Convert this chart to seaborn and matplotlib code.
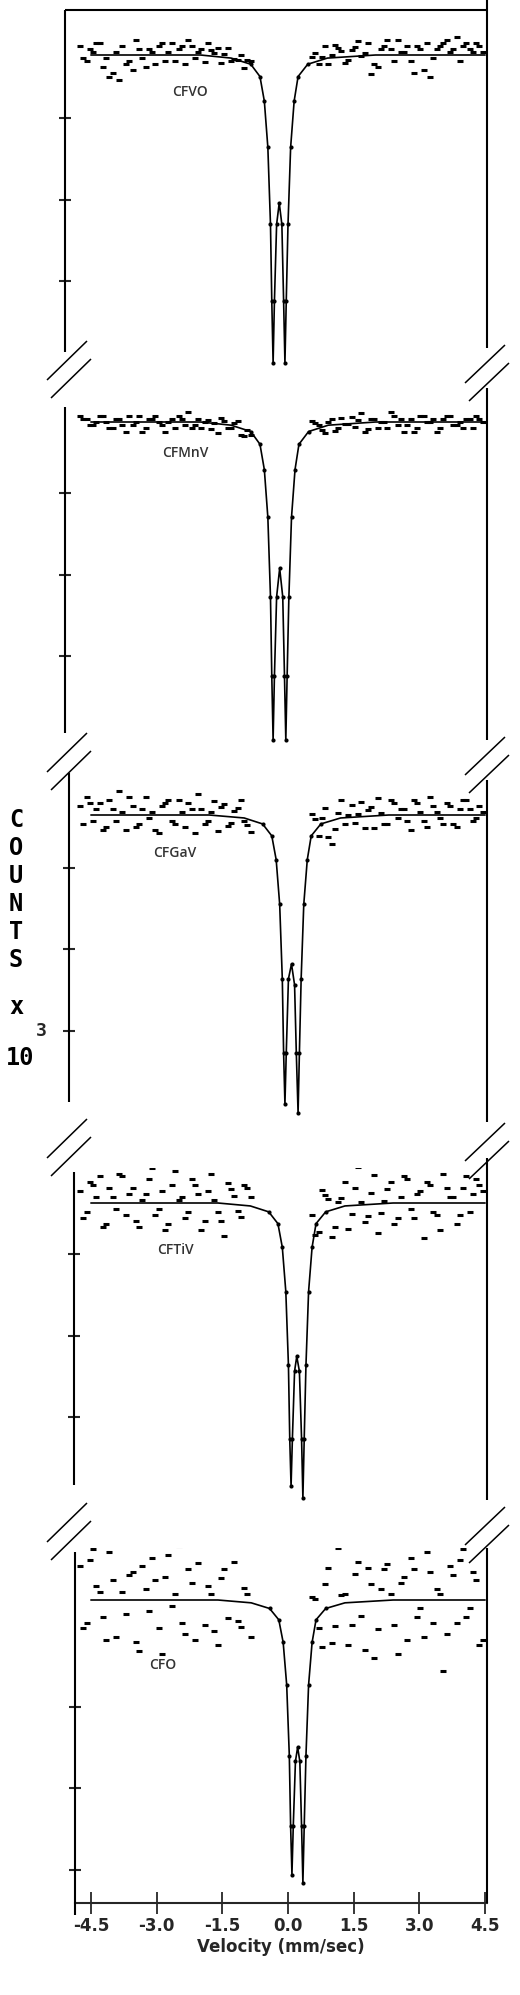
import numpy as np
import matplotlib
matplotlib.use("Agg")
import matplotlib.pyplot as plt
import seaborn as sns
from matplotlib.lines import Line2D

sns.set_style("white")

labels = ["CFVO", "CFMnV", "CFGaV", "CFTiV", "CFO"]

wing_v = [-4.75,-4.6,-4.45,-4.3,-4.15,-4.0,-3.85,-3.7,-3.55,-3.4,-3.25,-3.1,-2.95,-2.8,-2.65,-2.5,-2.35,-2.2,-2.05,-1.9,-1.75,-1.6,-1.45,-1.3,-1.15,-1.0,-0.85,
          0.55,0.7,0.85,1.0,1.15,1.3,1.45,1.6,1.75,1.9,2.05,2.2,2.35,2.5,2.65,2.8,2.95,3.1,3.25,3.4,3.55,3.7,3.85,4.0,4.15,4.3,4.45]
wing_v2 = [-4.68,-4.53,-4.38,-4.23,-4.08,-3.93,-3.78,-3.63,-3.48,-3.33,-3.18,-3.03,-2.88,-2.73,-2.58,-2.43,-2.28,-2.13,-1.98,-1.83,-1.68,-1.53,-1.38,-1.23,-1.08,-0.93,
           0.62,0.77,0.92,1.07,1.22,1.37,1.52,1.67,1.82,1.97,2.12,2.27,2.42,2.57,2.72,2.87,3.02,3.17,3.32,3.47,3.62,3.77,3.92,4.07,4.22,4.37]

res_cfvo = [3,-2,1,4,-1,-6,-8,-3,-5,2,-4,1,3,-2,4,2,-3,3,1,-2,2,3,1,-1,0,-2,1,
            2,-1,4,1,3,-2,2,5,1,-6,-4,3,2,5,1,-2,3,-5,-7,2,4,1,6,3,2,4,1]
res2_cfvo = [-1,2,4,-4,-7,1,3,-2,5,-1,2,-3,4,1,-2,3,5,-1,2,4,1,-2,3,0,2,1,
             3,1,-2,4,2,-1,3,0,4,-3,2,5,-2,1,3,-6,2,4,-1,3,5,2,-2,4,1,3]
res_cfmnv = [2,1,-1,2,0,-2,1,-3,-1,2,-2,1,0,-3,1,2,-1,-2,1,0,-2,-3,1,-1,2,-2,-1,
             3,1,-2,2,-1,0,2,1,-3,1,-2,0,3,-1,-3,1,-2,2,0,-3,1,2,-1,-2,1,2,0]
res2_cfmnv = [1,-1,0,2,-2,1,-1,2,0,-3,1,2,-1,0,-2,1,3,-1,-2,1,0,2,-1,1,-2,0,
              2,-1,1,-2,2,0,-1,3,-2,1,0,-2,2,1,-1,-3,2,0,1,-2,2,-1,0,1,-2,1]
res_cfgav = [3,6,-2,4,-4,2,8,-5,3,-3,6,1,-6,4,-2,5,-4,2,7,-3,1,-5,4,-2,3,-1,-4,
             7,-3,5,-8,2,-2,4,1,-4,3,6,-3,5,-1,2,-5,4,-2,6,1,-3,3,-4,5,2,-1,1]
res2_cfgav = [-3,4,2,-5,5,-2,1,6,-4,2,-1,-5,3,5,-3,1,4,-6,2,-2,5,3,-3,2,6,-2,
              4,2,-5,-3,6,1,-2,5,2,-4,1,-3,4,2,-2,5,1,-4,3,-1,4,-3,2,5,-2,3]
res_cftiv = [4,-3,6,9,-7,2,10,-4,5,-8,3,12,-2,-9,6,1,-5,8,3,-6,10,-3,-11,5,-2,7,3,
             11,-4,6,-9,2,8,-3,13,-6,4,-10,1,7,-5,9,-2,3,-12,6,-4,10,2,-7,5,-3,8,4]
res2_cftiv = [-5,7,2,-8,5,-2,9,3,-6,1,8,-4,4,-7,11,2,-3,6,-9,4,1,-6,7,3,-4,6,
              -2,9,4,-6,3,-8,6,1,-4,10,-3,5,-7,2,8,-5,4,7,-3,-9,5,2,-4,9,3,6]
res_cfo = [12,-8,18,3,-14,7,22,-5,10,-18,4,15,-10,8,-2,19,-12,6,13,-9,2,-16,11,24,-7,5,-12,
           16,-4,9,-13,20,3,-8,14,-17,6,-10,11,2,-19,8,15,-6,-13,10,4,-25,12,-8,18,-3,7,-14]
res2_cfo = [-10,14,5,-6,17,-13,3,9,-15,12,-4,7,-19,16,2,-8,11,-14,20,5,-11,8,-6,14,-9,3,
            9,-12,14,-7,3,-15,10,-5,12,-20,4,13,-9,6,-14,11,-3,17,-8,2,-12,9,14,-6,10,-16]

fit_v_cfvo = [-4.5,-2.0,-1.3,-0.85,-0.64,-0.54,-0.46,-0.4,-0.37,-0.34,-0.31,-0.26,-0.2,-0.14,-0.1,-0.07,-0.04,0.0,0.06,0.14,0.23,0.45,0.9,2.0,4.5]
fit_y_cfvo = [0,0,-0.01,-0.03,-0.07,-0.15,-0.3,-0.55,-0.8,-1.0,-0.8,-0.55,-0.48,-0.55,-0.8,-1.0,-0.8,-0.55,-0.3,-0.15,-0.07,-0.03,-0.01,0,0]
fit_v_cfmnv = [-4.5,-2.0,-1.3,-0.85,-0.64,-0.54,-0.46,-0.4,-0.37,-0.34,-0.31,-0.26,-0.19,-0.12,-0.08,-0.05,-0.02,0.02,0.08,0.16,0.25,0.47,0.92,2.0,4.5]
fit_y_cfmnv = [0,0,-0.01,-0.03,-0.07,-0.15,-0.3,-0.55,-0.8,-1.0,-0.8,-0.55,-0.46,-0.55,-0.8,-1.0,-0.8,-0.55,-0.3,-0.15,-0.07,-0.03,-0.01,0,0]
fit_v_cfgav = [-4.5,-1.8,-1.0,-0.58,-0.37,-0.27,-0.19,-0.13,-0.1,-0.07,-0.04,0.01,0.08,0.15,0.19,0.23,0.26,0.3,0.36,0.44,0.53,0.75,1.2,2.3,4.5]
fit_y_cfgav = [0,0,-0.01,-0.03,-0.07,-0.15,-0.3,-0.55,-0.8,-0.97,-0.8,-0.55,-0.5,-0.57,-0.8,-1.0,-0.8,-0.55,-0.3,-0.15,-0.07,-0.03,-0.01,0,0]
fit_v_cftiv = [-4.5,-1.6,-0.86,-0.44,-0.23,-0.13,-0.05,0.01,0.04,0.07,0.1,0.15,0.2,0.26,0.31,0.34,0.37,0.41,0.47,0.55,0.64,0.86,1.3,2.4,4.5]
fit_y_cftiv = [0,0,-0.01,-0.03,-0.07,-0.15,-0.3,-0.55,-0.8,-0.96,-0.8,-0.57,-0.52,-0.57,-0.8,-1.0,-0.8,-0.55,-0.3,-0.15,-0.07,-0.03,-0.01,0,0]
fit_v_cfo = [-4.5,-1.6,-0.84,-0.42,-0.21,-0.11,-0.03,0.03,0.06,0.09,0.12,0.17,0.22,0.27,0.31,0.34,0.37,0.41,0.47,0.55,0.64,0.86,1.3,2.4,4.5]
fit_y_cfo = [0,0,-0.01,-0.03,-0.07,-0.15,-0.3,-0.55,-0.8,-0.97,-0.8,-0.57,-0.52,-0.57,-0.8,-1.0,-0.8,-0.55,-0.3,-0.15,-0.07,-0.03,-0.01,0,0]

fits_v = [fit_v_cfvo, fit_v_cfmnv, fit_v_cfgav, fit_v_cftiv, fit_v_cfo]
fits_y = [fit_y_cfvo, fit_y_cfmnv, fit_y_cfgav, fit_y_cftiv, fit_y_cfo]
residuals = [res_cfvo, res_cfmnv, res_cfgav, res_cftiv, res_cfo]
residuals2 = [res2_cfvo, res2_cfmnv, res2_cfgav, res2_cftiv, res2_cfo]

x_ticks = [-4.5, -3.0, -1.5, 0.0, 1.5, 3.0, 4.5]

# ---- layout (pixels) ----
W, H = 520, 1995
fig = plt.figure(figsize=(W/100, H/100), dpi=100)
X0, PXU = 288.0, 43.8
RIGHT = 487
geo = [
    dict(L=65, T=10, B=370, base=55, dip=363, st=10, sb=352, ticks=[118,200,281], lab=(190,92), rt=0, rb=348),
    dict(L=65, T=400, B=745, base=422, dip=740, st=407, sb=733, ticks=[493,575,656], lab=(185,453), rt=388, rb=740),
    dict(L=69, T=770, B=1118, base=815, dip=1113, st=773, sb=1102, ticks=[868,949,1031], lab=(175,853), rt=780, rb=1122),
    dict(L=74, T=1168, B=1502, base=1203, dip=1498, st=1172, sb=1485, ticks=[1254,1336,1417], lab=(175,1250), rt=1158, rb=1500),
    dict(L=75, T=1548, B=1903, base=1600, dip=1883, st=1552, sb=1915, ticks=[1707,1788,1870], lab=(163,1665), rt=1548, rb=1903),
]

def fx(px): return px / W
def fy(py): return 1 - py / H
def fline(x1, y1, x2, y2, lw=1.5, color="black"):
    fig.add_artist(Line2D([fx(x1), fx(x2)], [fy(y1), fy(y2)], transform=fig.transFigure,
                          color=color, lw=lw, solid_capstyle="butt"))

for i, g in enumerate(geo):
    ax = fig.add_axes([fx(g["L"]), fy(g["B"]), fx(RIGHT) - fx(g["L"]), fy(g["T"]) - fy(g["B"])])
    ax.patch.set_alpha(0)
    depth = g["dip"] - g["base"]
    ax.set_ylim(-(g["B"] - g["base"]) / depth, (g["base"] - g["T"]) / depth)
    ax.set_xlim((g["L"] - X0) / PXU, (RIGHT - X0) / PXU)
    for s in ax.spines.values():
        s.set_visible(False)
    fv, fyv = fits_v[i], fits_y[i]
    sns.lineplot(x=fv, y=fyv, ax=ax, color="black", lw=1.2, sort=False)
    for wv, rr in [(wing_v, residuals[i]), (wing_v2, residuals2[i])]:
        sv = np.array(wv)
        sy = np.interp(sv, fv, fyv) + np.array(rr) / 100.0
        sns.scatterplot(x=sv, y=sy, ax=ax, marker="_", s=22, color="black", linewidth=2.2)
    sns.scatterplot(x=fv[3:-3], y=fyv[3:-3], ax=ax, marker="o", s=9, color="black", linewidth=0)
    ax.set_yticks([-(t - g["base"]) / depth for t in g["ticks"]])
    ax.set_yticklabels([])
    ax.tick_params(axis="y", direction="inout", length=9, width=1.5, left=True)
    ax.text((g["lab"][0] - X0) / PXU, -(g["lab"][1] - g["base"]) / depth, labels[i],
            fontsize=10, fontweight="semibold", color="#333333", family="Open Sans",
            ha="center", va="center")
    if i < 4:
        ax.set_xticks([])
    else:
        ax.spines["bottom"].set_visible(True)
        ax.spines["bottom"].set_linewidth(1.5)
        ax.set_xticks(x_ticks)
        ax.set_xticklabels([f"{t:.1f}" for t in x_ticks], fontweight="bold", fontsize=12)
        ax.tick_params(axis="x", direction="inout", length=16, width=1.3, bottom=True, pad=2)
        ax.set_xlabel("Velocity (mm/sec)", fontweight="bold", fontsize=12, labelpad=2)
    fline(g["L"], g["st"], g["L"], g["sb"])
    fline(RIGHT, g["rt"], RIGHT, g["rb"])
    if i == 0:
        fline(g["L"], 10, RIGHT, 10)

# break marks
for yb in [360, 752, 1138, 1522]:
    for dx, dy in [(0, 0), (4, 18)]:
        fline(47 + dx, yb + 20 + dy, 87 + dx, yb - 19 + dy, lw=1.1)
        fline(465 + dx, yb + 23 + dy, 505 + dx, yb - 15 + dy, lw=1.1)

# y label
mono = dict(family="DejaVu Sans Mono", fontweight="bold", fontsize=17, color="black", ha="center", va="center")
for k, ch in enumerate("COUNTS"):
    fig.text(fx(16), fy(820 + k * 28), ch, **mono)
fig.text(fx(16), fy(1007), "x", **mono)
fig.text(fx(41), fy(1031), "3", family="DejaVu Sans Mono", fontweight="bold", fontsize=13, ha="center", va="center")
fig.text(fx(20), fy(1058), "10", **mono)

fig.savefig("out.png", dpi=100)
